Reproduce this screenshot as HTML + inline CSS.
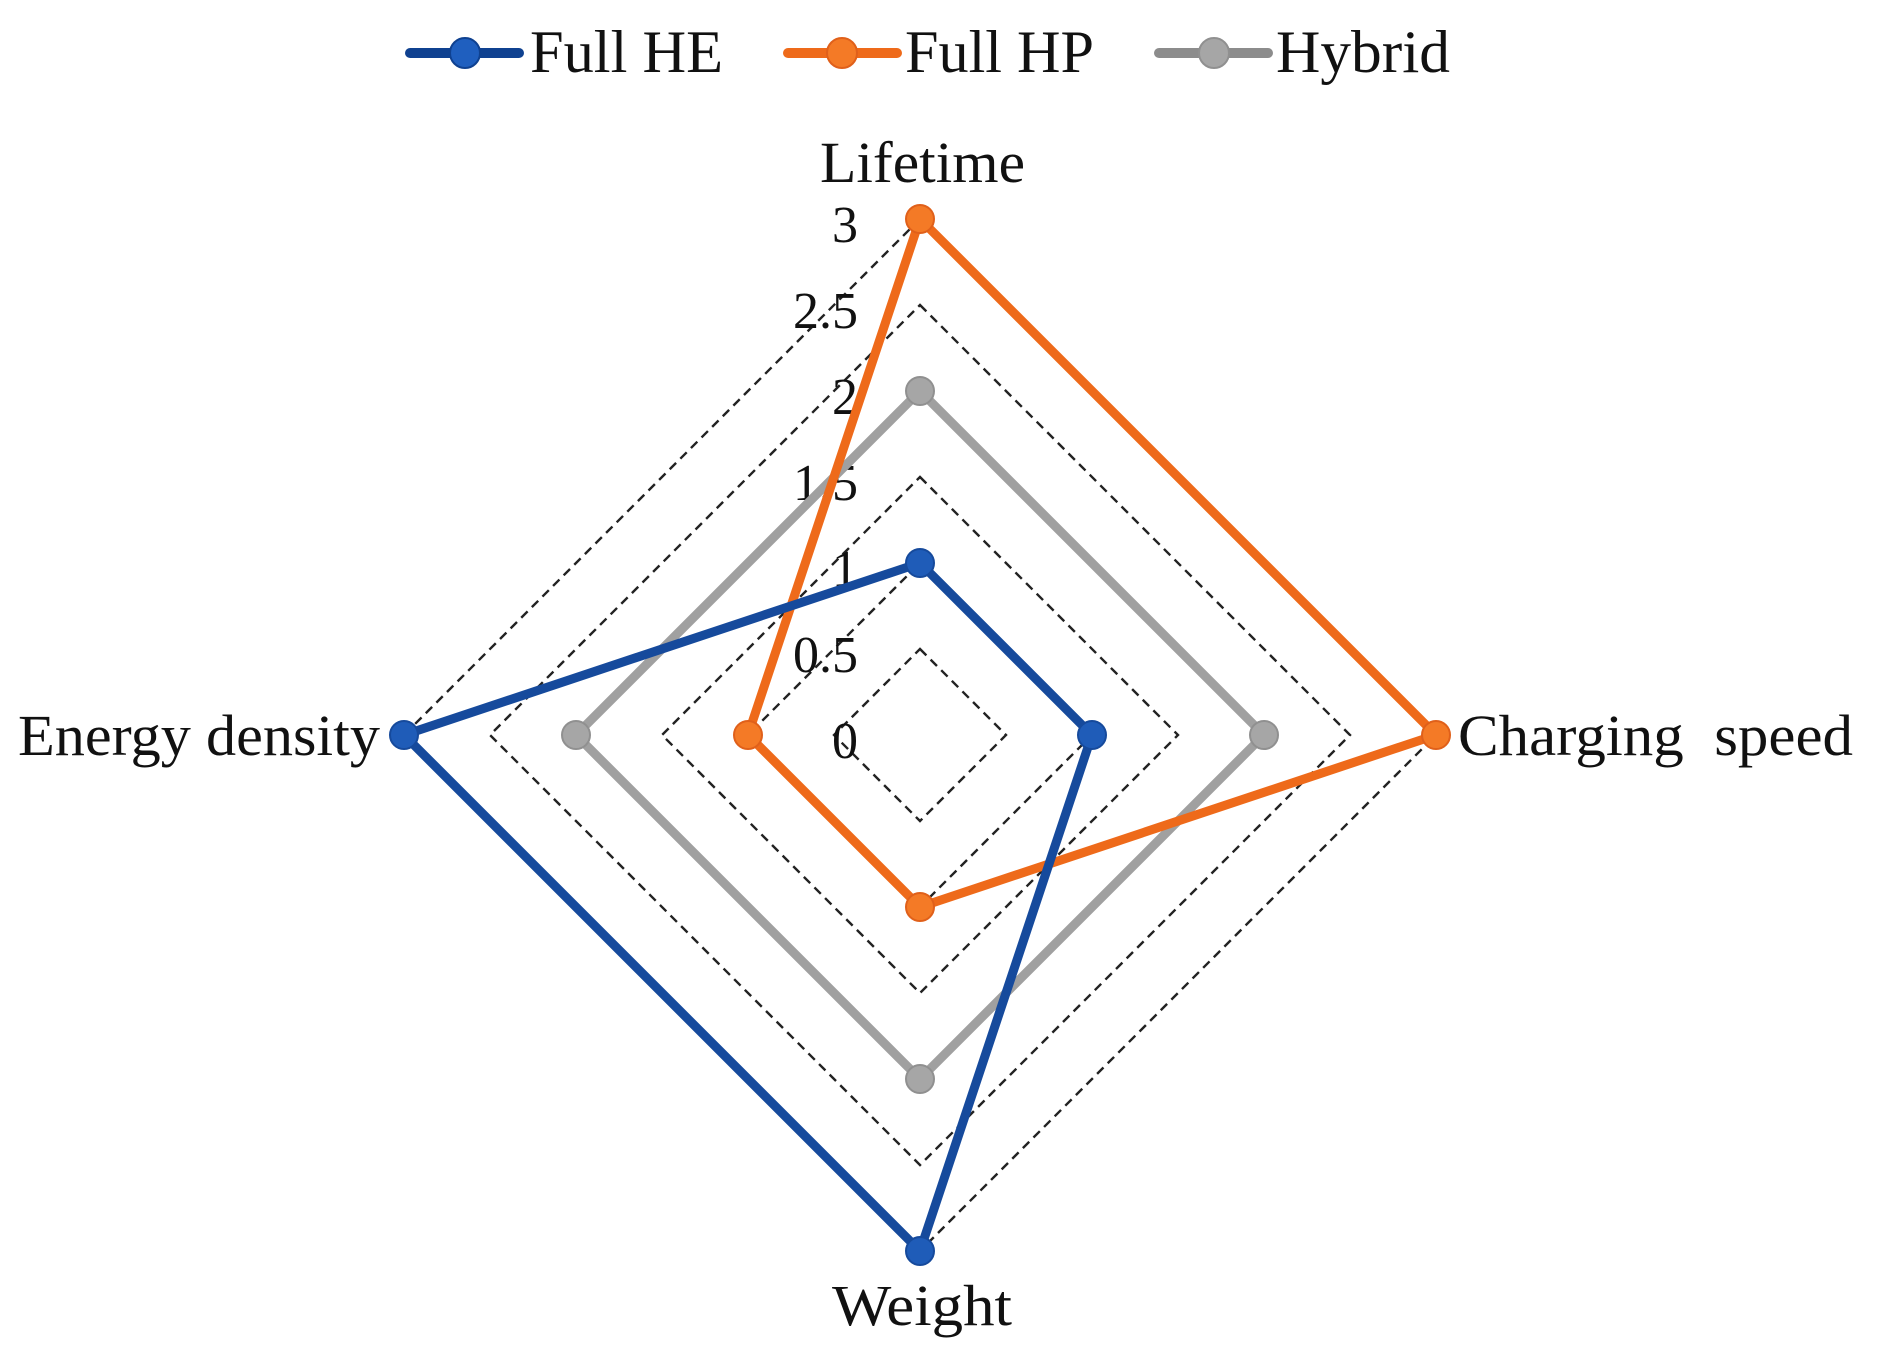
<!DOCTYPE html>
<html><head><meta charset="utf-8"><style>
html,body{margin:0;padding:0;background:#fff;}
svg{display:block;}
text{font-family:"Liberation Serif",serif;fill:#111;}
</style></head><body>
<svg width="1879" height="1371" viewBox="0 0 1879 1371" xmlns="http://www.w3.org/2000/svg">
<g fill="none" stroke="#222" stroke-width="2.4" stroke-dasharray="9,6">
<polygon points="920,649 1006,735 920,821 834,735"/>
<polygon points="920,563 1092,735 920,907 748,735"/>
<polygon points="920,477 1178,735 920,993 662,735"/>
<polygon points="920,391 1264,735 920,1079 576,735"/>
<polygon points="920,305 1350,735 920,1165 490,735"/>
<polygon points="920,219 1436,735 920,1251 404,735"/>
</g>
<g font-size="52" text-anchor="end">
<text x="858" y="242">3</text>
<text x="858" y="328">2.5</text>
<text x="858" y="414">2</text>
<text x="858" y="500">1.5</text>
<text x="858" y="586">1</text>
<text x="858" y="672">0.5</text>
<text x="858" y="758">0</text>
</g>
<g fill="none" stroke-width="9" stroke-linejoin="round">
<polygon points="920,391 1264,735 920,1079 576,735" stroke="#a0a0a0"/>
<polygon points="920,219 1436,735 920,907 748,735" stroke="#ee6a1a"/>
<polygon points="920,563 1092,735 920,1251 404,735" stroke="#164a9c"/>
</g>
<g fill="#a6a6a6" stroke="#909090" stroke-width="2">
<circle cx="920" cy="391" r="14"/><circle cx="1264" cy="735" r="14"/><circle cx="920" cy="1079" r="14"/><circle cx="576" cy="735" r="14"/>
</g>
<g fill="#f47a26" stroke="#e0601a" stroke-width="2">
<circle cx="920" cy="219" r="14"/><circle cx="1436" cy="735" r="14"/><circle cx="920" cy="907" r="14"/><circle cx="748" cy="735" r="14"/>
</g>
<g fill="#1f5cb8" stroke="#164a9c" stroke-width="2">
<circle cx="920" cy="563" r="14"/><circle cx="1092" cy="735" r="14"/><circle cx="920" cy="1251" r="14"/><circle cx="404" cy="735" r="14"/>
</g>
<g font-size="58">
<text x="820" y="182" textLength="205" lengthAdjust="spacingAndGlyphs">Lifetime</text>
<text x="832" y="1325" textLength="180" lengthAdjust="spacingAndGlyphs">Weight</text>
<text x="1458" y="755" textLength="395" lengthAdjust="spacingAndGlyphs" xml:space="preserve">Charging  speed</text>
<text x="18" y="755" textLength="362" lengthAdjust="spacingAndGlyphs">Energy density</text>
</g>
<g stroke-width="10" stroke-linecap="round">
<line x1="410" y1="53" x2="519" y2="53" stroke="#0f4190"/>
<line x1="788" y1="53" x2="897" y2="53" stroke="#ee6a1a"/>
<line x1="1159" y1="53" x2="1268" y2="53" stroke="#8c8c8c"/>
</g>
<circle cx="465" cy="53" r="15" fill="#1f5fbf" stroke="#0f4190" stroke-width="2"/>
<circle cx="842" cy="53" r="15" fill="#f47a26" stroke="#e0601a" stroke-width="2"/>
<circle cx="1214" cy="53" r="15" fill="#a6a6a6" stroke="#909090" stroke-width="2"/>
<g font-size="60">
<text x="530" y="72" textLength="193" lengthAdjust="spacingAndGlyphs">Full HE</text>
<text x="905" y="72" textLength="189" lengthAdjust="spacingAndGlyphs">Full HP</text>
<text x="1276" y="72" textLength="174" lengthAdjust="spacingAndGlyphs">Hybrid</text>
</g>
</svg>
</body></html>
